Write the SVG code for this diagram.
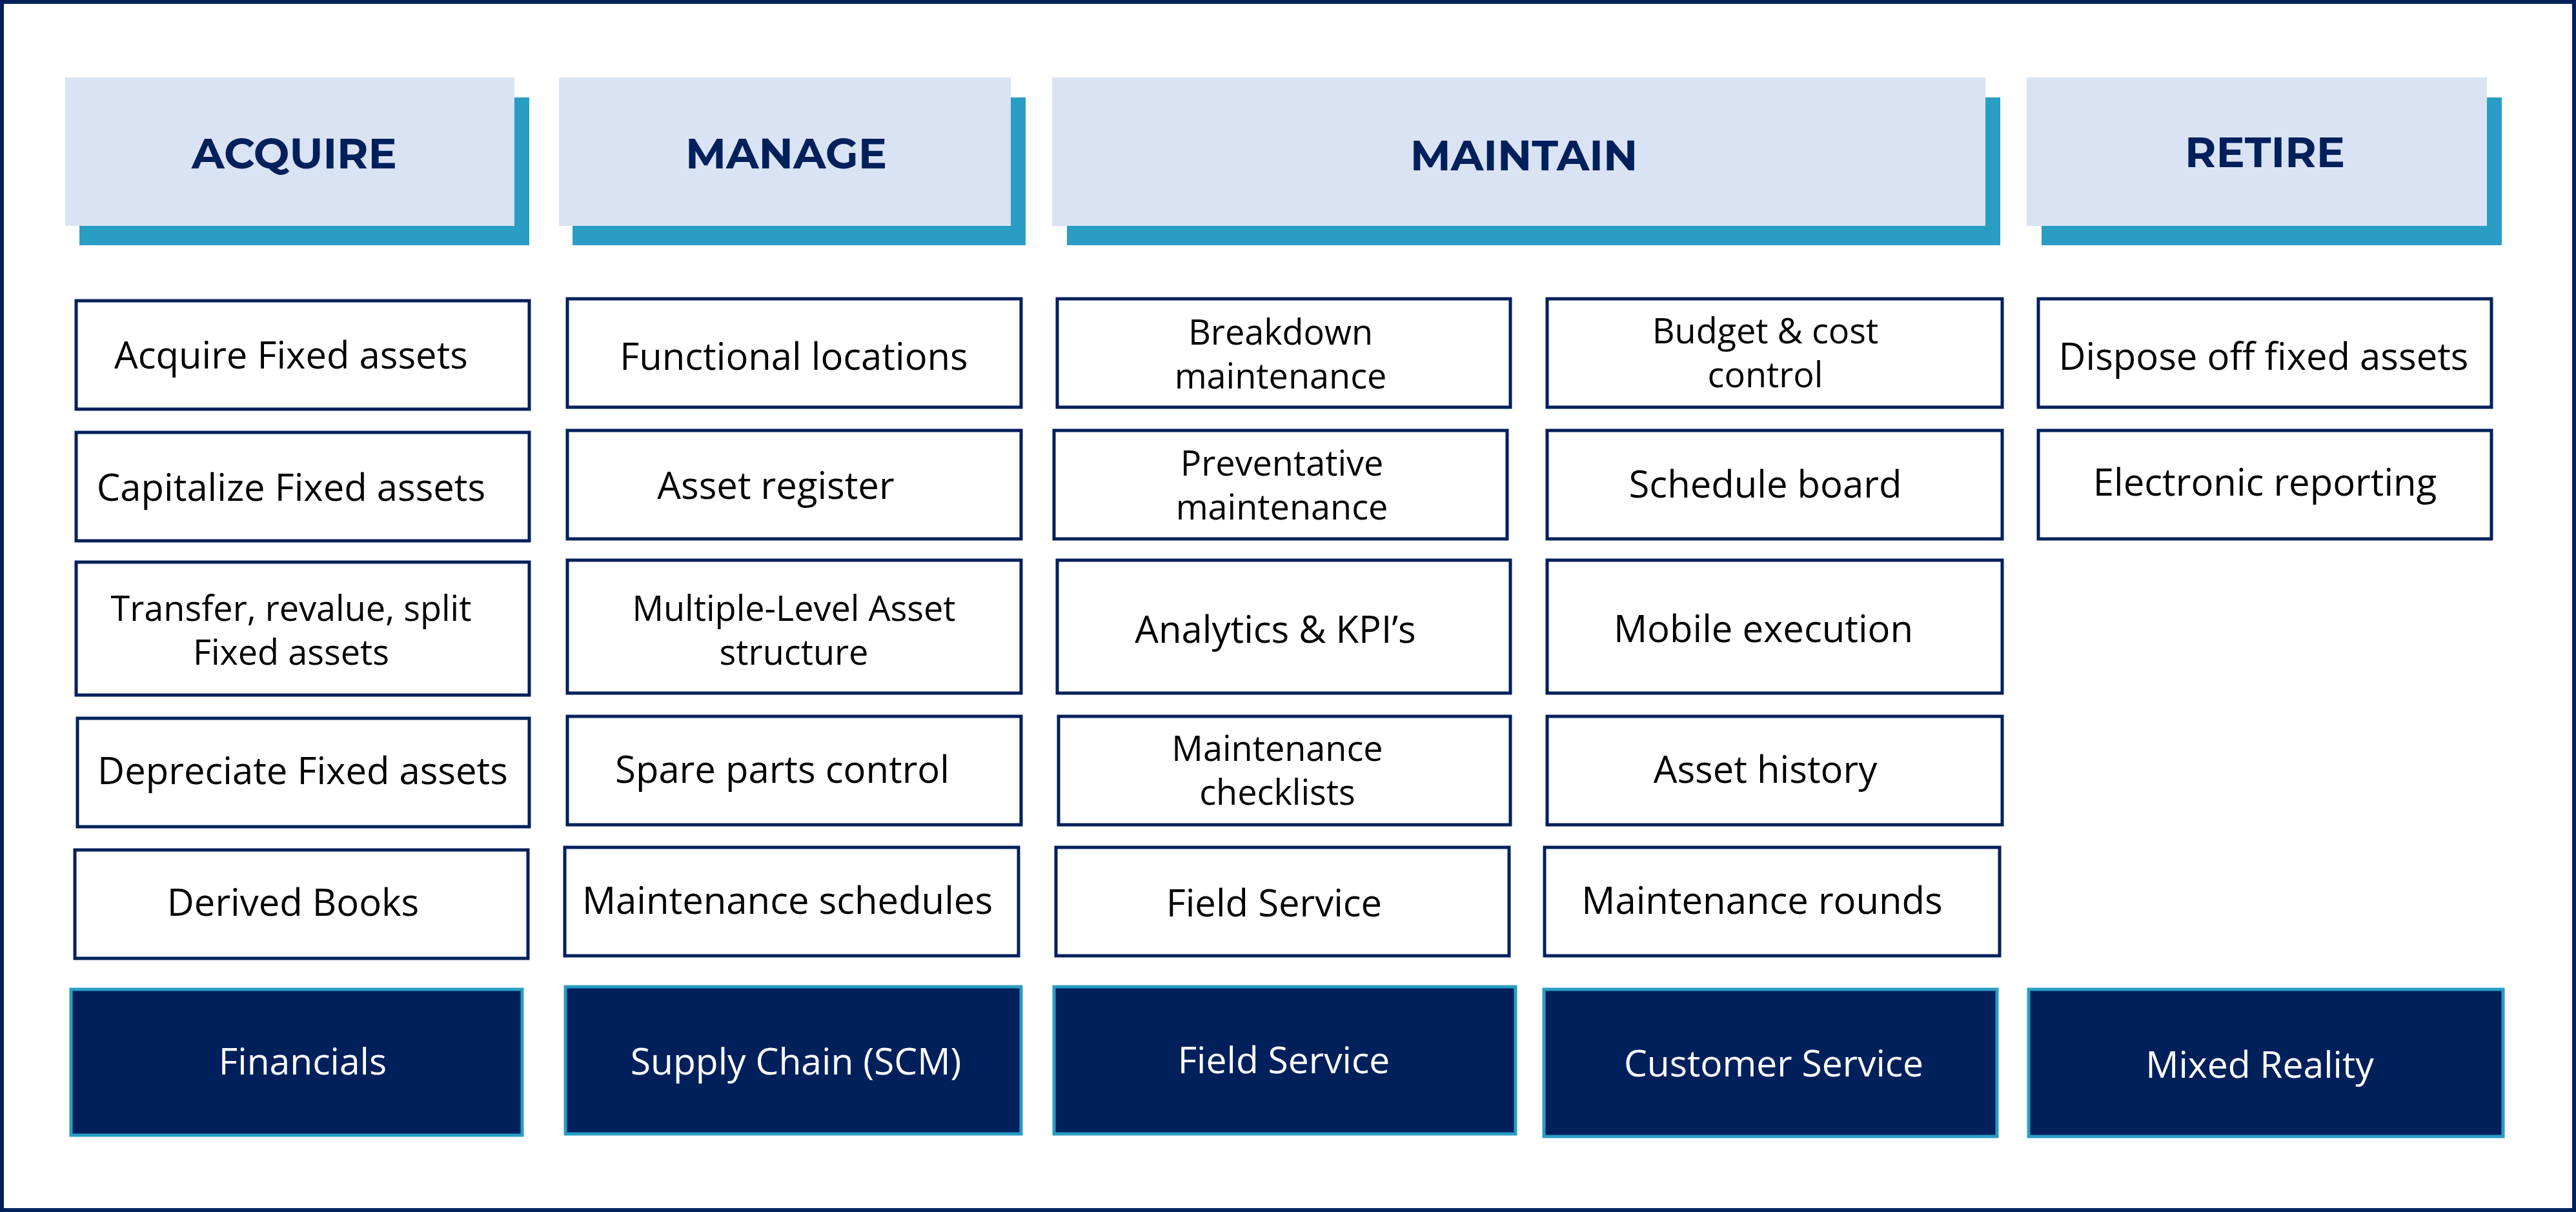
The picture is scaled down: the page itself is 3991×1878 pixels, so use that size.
<svg xmlns="http://www.w3.org/2000/svg" width="3991" height="1878" viewBox="0 0 3991 1878">
<style>
.hd{fill:#DAE3F3}.sh{fill:#2A9DC4}
.ht{font-family:"Montserrat","Open Sans","Liberation Sans",sans-serif;font-weight:bold;font-size:66px;fill:#00205C;text-anchor:middle;dominant-baseline:central}
.bx{fill:#fff;stroke:#00205C;stroke-width:5}
.bt{font-family:"Open Sans","Liberation Sans",sans-serif;font-size:58px;fill:#000;text-anchor:middle;dominant-baseline:central}
.b2{font-size:54px}
.pb{fill:#00205C;stroke:#2A9DC4;stroke-width:5}
.pt{font-family:"Open Sans","Liberation Sans",sans-serif;font-size:57px;fill:#fff;text-anchor:middle;dominant-baseline:central}
</style>
<rect x="3" y="3" width="3985" height="1872" fill="#fff" stroke="#00205C" stroke-width="6"/>
<g id="h-acquire"><rect class="sh" x="123" y="151" width="697" height="229"/><rect class="hd" x="101" y="120" width="696" height="230"/><text class="ht" x="456" y="237">ACQUIRE</text></g>
<g id="h-manage"><rect class="sh" x="887" y="151" width="702" height="229"/><rect class="hd" x="866" y="120" width="700" height="230"/><text class="ht" x="1218" y="237">MANAGE</text></g>
<g id="h-maintain"><rect class="sh" x="1653" y="151" width="1446" height="229"/><rect class="hd" x="1630" y="120" width="1446" height="230"/><text class="ht" x="2361" y="240">MAINTAIN</text></g>
<g id="h-retire"><rect class="sh" x="3163" y="151" width="713" height="229"/><rect class="hd" x="3140" y="120" width="713" height="230"/><text class="ht" x="3509" y="235">RETIRE</text></g>

<g id="a1"><rect class="bx" x="118" y="466" width="702" height="168"/><text class="bt" x="451" y="548">Acquire Fixed assets</text></g>
<g id="a2"><rect class="bx" x="118" y="670" width="702" height="168"/><text class="bt" x="451" y="753">Capitalize Fixed assets</text></g>
<g id="a3"><rect class="bx" x="118" y="871" width="702" height="206"/><text class="bt b2" x="451" y="941">Transfer, revalue, split</text><text class="bt b2" x="451" y="1009">Fixed assets</text></g>
<g id="a4"><rect class="bx" x="120" y="1113" width="700" height="168"/><text class="bt" x="469" y="1192">Depreciate Fixed assets</text></g>
<g id="a5"><rect class="bx" x="116" y="1317" width="702" height="168"/><text class="bt" x="454" y="1396">Derived Books</text></g>

<g id="m1"><rect class="bx" x="879" y="463" width="703" height="168"/><text class="bt" x="1230" y="550">Functional locations</text></g>
<g id="m2"><rect class="bx" x="879" y="667" width="703" height="168"/><text class="bt" x="1202" y="750">Asset register</text></g>
<g id="m3"><rect class="bx" x="879" y="868" width="703" height="206"/><text class="bt b2" x="1230" y="941">Multiple-Level Asset</text><text class="bt b2" x="1230" y="1009">structure</text></g>
<g id="m4"><rect class="bx" x="879" y="1110" width="703" height="168"/><text class="bt" x="1212" y="1190">Spare parts control</text></g>
<g id="m5"><rect class="bx" x="875" y="1313" width="703" height="168"/><text class="bt" x="1220" y="1393">Maintenance schedules</text></g>

<g id="t1"><rect class="bx" x="1638" y="463" width="702" height="168"/><text class="bt b2" x="1984" y="513">Breakdown</text><text class="bt b2" x="1984" y="581">maintenance</text></g>
<g id="t2"><rect class="bx" x="1633" y="667" width="702" height="168"/><text class="bt b2" x="1986" y="716">Preventative</text><text class="bt b2" x="1986" y="784">maintenance</text></g>
<g id="t3"><rect class="bx" x="1638" y="868" width="702" height="206"/><text class="bt" x="1976" y="973">Analytics &amp; KPI’s</text></g>
<g id="t4"><rect class="bx" x="1640" y="1110" width="700" height="168"/><text class="bt b2" x="1979" y="1158">Maintenance</text><text class="bt b2" x="1979" y="1226">checklists</text></g>
<g id="t5"><rect class="bx" x="1636" y="1313" width="702" height="168"/><text class="bt" x="1974" y="1397">Field Service</text></g>

<g id="u1"><rect class="bx" x="2397" y="463" width="705" height="168"/><text class="bt b2" x="2735" y="511">Budget &amp; cost</text><text class="bt b2" x="2735" y="579">control</text></g>
<g id="u2"><rect class="bx" x="2397" y="667" width="705" height="168"/><text class="bt" x="2735" y="748">Schedule board</text></g>
<g id="u3"><rect class="bx" x="2397" y="868" width="705" height="206"/><text class="bt" x="2732" y="972">Mobile execution</text></g>
<g id="u4"><rect class="bx" x="2397" y="1110" width="705" height="168"/><text class="bt" x="2735" y="1190">Asset history</text></g>
<g id="u5"><rect class="bx" x="2393" y="1313" width="705" height="168"/><text class="bt" x="2730" y="1393">Maintenance rounds</text></g>

<g id="r1"><rect class="bx" x="3158" y="463" width="702" height="168"/><text class="bt" x="3507" y="550">Dispose off fixed assets</text></g>
<g id="r2"><rect class="bx" x="3158" y="667" width="702" height="168"/><text class="bt" x="3509" y="745">Electronic reporting</text></g>

<g id="p1"><rect class="pb" x="110" y="1533" width="699" height="226"/><text class="pt" x="469" y="1643">Financials</text></g>
<g id="p2"><rect class="pb" x="876" y="1529" width="706" height="228"/><text class="pt" x="1233" y="1643">Supply Chain (SCM)</text></g>
<g id="p3"><rect class="pb" x="1633" y="1529" width="715" height="228"/><text class="pt" x="1989" y="1641">Field Service</text></g>
<g id="p4"><rect class="pb" x="2392" y="1533" width="702" height="228"/><text class="pt" x="2748" y="1646">Customer Service</text></g>
<g id="p5"><rect class="pb" x="3143" y="1533" width="735" height="228"/><text class="pt" x="3501" y="1648">Mixed Reality</text></g>
<g id="connectors"/>
</svg>
